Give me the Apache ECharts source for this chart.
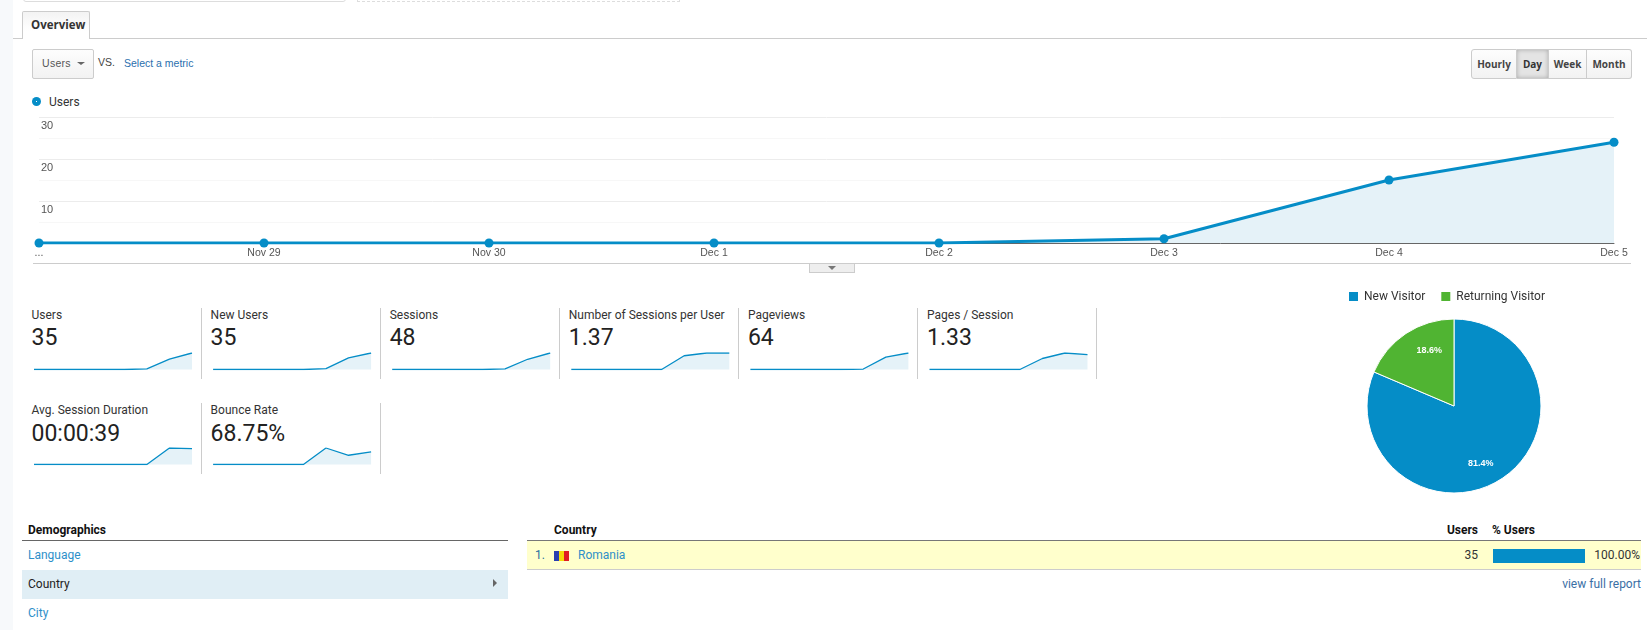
<!DOCTYPE html>
<html>
<head>
<meta charset="utf-8">
<title>Audience Overview</title>
<script src="https://cdn.jsdelivr.net/npm/echarts@6/dist/echarts.min.js"></script>
<style>
  html, body { margin: 0; padding: 0; background: #fff; overflow: hidden; }
  #page { position: relative; width: 1647px; height: 630px; overflow: hidden; font-family: Roboto, sans-serif; color: #222; }
  #charts { position: absolute; left: 0; top: 0; width: 1647px; height: 630px; z-index: 5; }
  .box { position: absolute; box-sizing: border-box; }
  .txt { position: absolute; white-space: nowrap; line-height: 1; font-size: 12px; }
  .btn { position: absolute; top: 49px; height: 30px; box-sizing: border-box; border: 1px solid #ccc; border-left: 0; background: linear-gradient(#fdfdfd, #f2f2f2);
         font: bold 10px/28px "Open Sans", sans-serif; color: #444; text-align: center; }
</style>
</head>
<body>
<div id="page">
  <div id="charts"></div>
</div>
<script>
  // main chart
  const days = ['...', 'Nov 29', 'Nov 30', 'Dec 1', 'Dec 2', 'Dec 3', 'Dec 4', 'Dec 5']
  const usersByDay = [0, 0, 0, 0, 0, 1, 15, 24]

  // metric tiles
  const tileNames = ['Users', 'New Users', 'Sessions', 'Number of Sessions per User', 'Pageviews', 'Pages / Session', 'Avg. Session Duration', 'Bounce Rate']
  const tileValues = ['35', '35', '48', '1.37', '64', '1.33', '00:00:39', '68.75%']
  const sparkUsers = [0, 0, 0, 0, 0, 1, 15, 24]
  const sparkNewUsers = [0, 0, 0, 0, 0, 1, 14, 20]
  const sparkSessions = [0, 0, 0, 0, 0, 1, 18, 29]
  const sparkPerUser = [0, 0, 0, 0, 0, 1, 1.2, 1.2]
  const sparkPageviews = [0, 0, 0, 0, 0, 1, 27, 36]
  const sparkPerSession = [0, 0, 0, 0, 0, 1, 1.5, 1.35]
  const sparkDuration = [0, 0, 0, 0, 0, 0, 62, 60]
  const sparkBounce = [0, 0, 0, 0, 0, 100, 56, 76]
  const sparks = [sparkUsers, sparkNewUsers, sparkSessions, sparkPerUser, sparkPageviews, sparkPerSession, sparkDuration, sparkBounce]

  // pie
  const visitorNames = ['New Visitor', 'Returning Visitor']
  const visitorShares = [81.4, 18.6]

  // country table
  const countryPercent = [100]

  const blue = '#058dc7'
  const green = '#50b432'
  const page = document.getElementById('page')

  const addText = (text, x, y, style = {}) => {
    const el = document.createElement('div')
    el.className = 'txt'
    el.textContent = text
    el.style.top = y + 'px'
    if (style.right !== undefined) {
      el.style.right = (1647 - style.right) + 'px'
    } else {
      el.style.left = x + 'px'
    }
    Object.assign(el.style, style.css || {})
    page.appendChild(el)
    return el
  }
  const addBox = (x, y, w, h, css) => {
    const el = document.createElement('div')
    el.className = 'box'
    Object.assign(el.style, { left: x + 'px', top: y + 'px', width: w + 'px', height: h + 'px' }, css)
    page.appendChild(el)
    return el
  }

  // page chrome
  addBox(0, 0, 13, 630, { background: '#f7f9fb' })
  addBox(23, -10, 323, 12, { border: '1px solid #ddd', borderRadius: '3px' })
  addBox(357, -10, 323, 12, { border: '1px dashed #ddd' })
  addBox(13, 38, 1634, 1, { background: '#ccc' })
  addBox(22, 11, 68, 28, { background: 'linear-gradient(#f3f3f3, #fff 70%)', border: '1px solid #ccc', borderBottom: '0', borderRadius: '2px 2px 0 0' })
  addText('Overview', 31, 19, { css: { font: 'bold 11.5px/1 "Open Sans", sans-serif', color: '#333' } })

  addBox(32, 49, 62, 30, { background: 'linear-gradient(#fdfdfd, #f2f2f2)', border: '1px solid #ccc', borderRadius: '2px' })
  addText('Users', 42, 58, { css: { font: '10.5px/1 "Liberation Sans", sans-serif', color: '#555', letterSpacing: '0.3px' } })
  addBox(77, 62, 0, 0, { borderLeft: '4px solid transparent', borderRight: '4px solid transparent', borderTop: '3px solid #666' })
  addText('VS.', 98, 57, { css: { font: '10.5px/1 "Liberation Sans", sans-serif', color: '#444' } })
  addText('Select a metric', 124, 58, { css: { font: '10.5px/1 "Liberation Sans", sans-serif', color: '#2a6fae' } })

  const periods = [['Hourly', 1471, 46], ['Day', 1517, 32], ['Week', 1549, 38], ['Month', 1587, 45]]
  periods.forEach(([name, x, w], i) => {
    const el = document.createElement('div')
    el.className = 'btn'
    el.textContent = name
    el.style.left = x + 'px'
    el.style.width = w + 'px'
    if (i === 0) { el.style.borderLeft = '1px solid #ccc'; el.style.borderRadius = '3px 0 0 3px' }
    if (i === 3) { el.style.borderRadius = '0 3px 3px 0' }
    if (i === 1) { el.style.background = '#e4e4e4'; el.style.boxShadow = 'inset 0 0 4px #aaa'; el.style.color = '#333' }
    page.appendChild(el)
  })

  // legend of the main chart
  addBox(32, 97, 9, 9, { background: blue, borderRadius: '50%' })
  addBox(36, 101, 1, 1, { background: '#fff' })
  addText('Users', 49, 96, { css: { fontSize: '12px', color: '#333' } })

  addBox(33, 263, 1598, 1, { background: '#ccc' })
  addBox(809, 264, 46, 9, { background: '#eee', border: '1px solid #ccc', borderTop: '0', boxSizing: 'border-box' })
  addBox(828, 266, 0, 0, { borderLeft: '4px solid transparent', borderRight: '4px solid transparent', borderTop: '4px solid #777' })

  // tiles
  const tileGrid = []
  tileNames.forEach((name, i) => {
    const col = i % 6
    const row = Math.floor(i / 6)
    const x = 31.5 + col * 179.1
    const rowTop = row === 0 ? 0 : 95
    addText(name, x, 309 + rowTop, { css: { fontSize: '12px', color: '#333' } })
    addText(tileValues[i], x, 326 + rowTop + row, { css: { fontSize: '23px', color: '#222' } })
    addBox(x + 169, 308 + rowTop, 1, 71, { background: '#ccc' })
    tileGrid.push({ left: x + 2.5, top: 353 + rowTop, width: 158, height: 16.5 })
  })

  // demographics table
  addText('Demographics', 28, 524, { css: { fontWeight: 'bold', color: '#111' } })
  addBox(22, 540, 486, 1, { background: '#666' })
  addText('Language', 28, 549, { css: { color: '#2e8fc9' } })
  addBox(22, 570, 486, 29, { background: '#e0eef5' })
  addText('Country', 28, 578, { css: { color: '#222' } })
  addBox(493, 579, 0, 0, { borderTop: '4px solid transparent', borderBottom: '4px solid transparent', borderLeft: '4px solid #666' })
  addText('City', 28, 607, { css: { color: '#2e8fc9' } })

  addText('Country', 554, 524, { css: { fontWeight: 'bold', color: '#111' } })
  addText('Users', 0, 524, { right: 1478, css: { fontWeight: 'bold', color: '#111' } })
  addText('% Users', 1492, 524, { css: { fontWeight: 'bold', color: '#111' } })
  addBox(527, 540, 1114, 30, { background: '#ffffcc', borderTop: '1px solid #777', borderBottom: '1px solid #ccc', boxSizing: 'border-box' })
  addText('1.', 535, 549, { css: { color: '#1f6fa0' } })
  addBox(554, 551, 5, 10, { background: '#2a3fb0' })
  addBox(559, 551, 5, 10, { background: '#f5d90a' })
  addBox(564, 551, 5, 10, { background: '#e01b24' })
  addText('Romania', 578, 549, { css: { color: '#2e8fc9' } })
  addText('35', 0, 549, { right: 1478, css: { color: '#333' } })
  addText('100.00%', 0, 549, { right: 1640, css: { color: '#333' } })
  addText('view full report', 0, 578, { right: 1641, css: { color: '#3a6fa5' } })

  // chart
  const grid = [{ left: 39, top: 117, width: 1575, height: 126 }]
  const xAxis = [{
    type: 'category',
    gridIndex: 0,
    boundaryGap: false,
    data: days,
    axisTick: { show: false },
    axisLine: { lineStyle: { color: '#666', width: 1 } },
    axisLabel: { interval: 0, color: '#555', fontSize: 10.5, fontFamily: '"Liberation Sans"', margin: 5 }
  }]
  const yAxis = [{
    type: 'value',
    gridIndex: 0,
    min: 0,
    max: 30,
    interval: 5,
    axisLine: { show: false },
    axisTick: { show: false },
    splitLine: { lineStyle: { color: ['#ececec', '#f7f7f7'] } },
    axisLabel: {
      inside: true,
      margin: 2,
      verticalAlign: 'top',
      padding: [3, 0, 0, 0],
      color: '#555',
      fontSize: 11,
      fontFamily: '"Liberation Sans"',
      formatter: (v) => (v > 0 && v % 10 === 0 ? v : '')
    }
  }]
  const series = [{
    name: 'Users',
    type: 'line',
    xAxisIndex: 0,
    yAxisIndex: 0,
    data: usersByDay,
    symbol: 'circle',
    symbolSize: 9,
    showSymbol: true,
    lineStyle: { color: blue, width: 3 },
    itemStyle: { color: blue },
    areaStyle: { color: '#e5f2f8', opacity: 1 },
    z: 3
  }]

  sparks.forEach((values, i) => {
    const idx = grid.length
    grid.push(tileGrid[i])
    xAxis.push({ type: 'category', gridIndex: idx, boundaryGap: false, data: days, show: false })
    yAxis.push({ type: 'value', gridIndex: idx, min: 0, max: 'dataMax', show: false })
    series.push({
      type: 'line',
      xAxisIndex: idx,
      yAxisIndex: idx,
      data: values,
      symbol: 'none',
      lineStyle: { color: blue, width: 1.3 },
      areaStyle: { color: '#e5f2f8', opacity: 1 }
    })
  })

  // % Users bar
  const barIdx = grid.length
  grid.push({ left: 1493, top: 549, width: 92, height: 14 })
  xAxis.push({ type: 'value', gridIndex: barIdx, min: 0, max: 100, show: false })
  yAxis.push({ type: 'category', gridIndex: barIdx, data: ['Romania'], show: false })
  series.push({
    type: 'bar',
    xAxisIndex: barIdx,
    yAxisIndex: barIdx,
    data: countryPercent,
    barWidth: '100%',
    itemStyle: { color: blue },
    silent: true
  })

  series.push({
    type: 'pie',
    center: [1454, 406],
    radius: [0, 87],
    startAngle: 90,
    clockwise: true,
    data: visitorNames.map((name, i) => ({ name, value: visitorShares[i], itemStyle: { color: i === 0 ? blue : green } })),
    itemStyle: { borderColor: '#fff', borderWidth: 1 },
    label: {
      position: 'inside',
      formatter: '{c}%',
      color: '#fff',
      fontSize: 9,
      fontWeight: 'bold',
      fontFamily: '"Liberation Sans"'
    },
    labelLine: { show: false },
    labelLayout: (params) => (params.dataIndex === 0 ? { dx: 1, dy: 19 } : { dx: 1, dy: -17 })
  })

  const myChart = echarts.init(document.getElementById('charts'))
  myChart.setOption({
    animation: false,
    backgroundColor: 'transparent',
    legend: {
      data: visitorNames,
      left: 1347,
      top: 290,
      padding: 0,
      icon: 'rect',
      itemWidth: 11,
      itemHeight: 11,
      itemGap: 14,
      textStyle: { color: '#333', fontSize: 12, fontFamily: 'Roboto' }
    },
    grid,
    xAxis,
    yAxis,
    series
  })
</script>
</body>
</html>
